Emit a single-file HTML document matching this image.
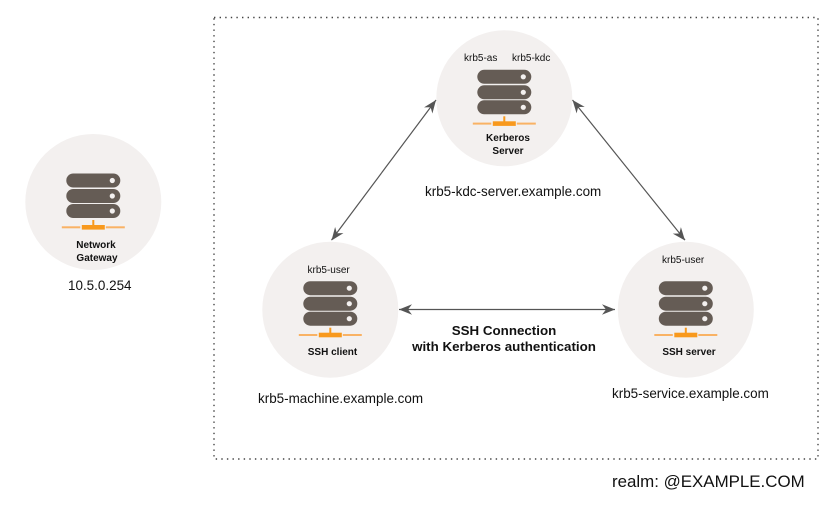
<!DOCTYPE html>
<html>
<head>
<meta charset="utf-8">
<style>
html,body{margin:0;padding:0;background:#fff;width:837px;height:516px;overflow:hidden}
svg{display:block}
text{font-family:"Liberation Sans",sans-serif;fill:#111}
.s{font-size:10px}
.b{font-size:10px;font-weight:bold}
.d{font-size:13.45px}
.h{font-size:13.35px;font-weight:bold}
</style>
</head>
<body>
<svg width="837" height="516" viewBox="0 0 837 516" xmlns="http://www.w3.org/2000/svg">
<defs>
<g id="srv">
<circle cx="0" cy="0" r="68" fill="#f3f0ef"/>
<rect x="-27" y="-28.5" width="54" height="14" rx="7" fill="#655c55"/>
<rect x="-27" y="-13" width="54" height="14" rx="7" fill="#655c55"/>
<rect x="-27" y="2" width="54" height="14" rx="7" fill="#655c55"/>
<circle cx="19" cy="-21.5" r="2.6" fill="#f3f0ef"/>
<circle cx="19" cy="-6" r="2.6" fill="#f3f0ef"/>
<circle cx="19" cy="9" r="2.6" fill="#f3f0ef"/>
<rect x="-31.5" y="24.3" width="18.5" height="2" fill="#f9b264"/>
<rect x="12.5" y="24.3" width="19" height="2" fill="#f9b264"/>
<rect x="-11.5" y="23" width="23" height="4.6" fill="#f8991d"/>
<rect x="-1" y="18" width="2" height="6" fill="#f8991d"/>
</g>
<path id="ah" d="M0 0 L-13 -5.2 L-9 0 L-13 5.2 Z" fill="#555"/>
</defs>

<rect x="214" y="17.5" width="604" height="441.5" fill="none" stroke="#444" stroke-width="1.4" stroke-dasharray="1.4 4.2"/>

<use href="#srv" x="504.3" y="98.3"/>
<use href="#srv" x="93.3" y="202"/>
<use href="#srv" x="330.3" y="309.7"/>
<use href="#srv" x="685.8" y="309.7"/>

<line x1="436" y1="100" x2="331.5" y2="240" stroke="#555" stroke-width="1.2"/>
<line x1="572.5" y1="100" x2="685" y2="240" stroke="#555" stroke-width="1.2"/>
<line x1="399" y1="309.5" x2="615" y2="309.5" stroke="#555" stroke-width="1.2"/>
<use href="#ah" transform="translate(436 100) rotate(-53.3)"/>
<use href="#ah" transform="translate(331.5 240.5) rotate(126.7)"/>
<use href="#ah" transform="translate(572.5 100) rotate(-128.8)"/>
<use href="#ah" transform="translate(685 240.5) rotate(51.2)"/>
<use href="#ah" transform="translate(399 309.5) rotate(180)"/>
<use href="#ah" transform="translate(615 309.5)"/>

<text class="s" x="464" y="61">krb5-as</text>
<text class="s" x="512" y="61">krb5-kdc</text>
<text class="b" x="508" y="141" text-anchor="middle">Kerberos</text>
<text class="b" x="508" y="154" text-anchor="middle">Server</text>
<text class="d" x="425" y="196">krb5-kdc-server.example.com</text>

<text class="b" x="96" y="248" text-anchor="middle">Network</text>
<text class="b" x="97" y="261" text-anchor="middle">Gateway</text>
<text class="d" x="68" y="290">10.5.0.254</text>

<text class="s" x="307.5" y="273">krb5-user</text>
<text class="b" x="332.5" y="355" text-anchor="middle">SSH client</text>
<text class="d" x="258" y="403">krb5-machine.example.com</text>

<text class="s" x="662" y="263">krb5-user</text>
<text class="b" x="689" y="355" text-anchor="middle">SSH server</text>
<text class="d" x="612" y="398">krb5-service.example.com</text>

<text class="h" x="504" y="335" text-anchor="middle">SSH Connection</text>
<text class="h" x="504" y="351" text-anchor="middle">with Kerberos authentication</text>

<text x="612" y="487" style="font-size:16.9px">realm: @EXAMPLE.COM</text>
</svg>
</body>
</html>
